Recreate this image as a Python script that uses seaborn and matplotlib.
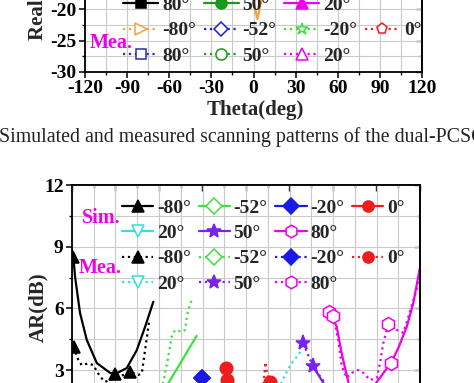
import matplotlib
matplotlib.use("Agg")
import matplotlib.pyplot as plt
import seaborn as sns
from matplotlib.lines import Line2D
from matplotlib.ticker import MultipleLocator

# ---------------- data ----------------
# upper chart (realized gain pattern) - only the deep null is in view
gain_sim_m80_theta = [-1.0, 2.8, 6.5]
gain_sim_m80_value = [-17.7, -21.6, -17.7]

# lower chart (axial ratio)
ar_sim_m80_theta = [-79.4, -78.6, -76.3, -73.2, -68.6, -62.5, -60.2, -54.8, -50.2, -46.4, -42.6]
ar_sim_m80_value = [8.51, 7.54, 5.77, 4.46, 3.34, 2.86, 2.80, 3.10, 3.97, 5.10, 6.32]
ar_mea_m80_theta = [-79.0, -77.9, -75.6, -72.5, -70.2, -67.1, -64.8, -59.5, -53.3, -49.5, -47.9, -46.4, -44.5]
ar_mea_m80_value = [4.13, 3.65, 3.24, 3.32, 3.24, 2.68, 2.43, 2.60, 2.92, 2.76, 2.84, 3.97, 5.40]

ar_sim_m52_theta = [-40.0, -22.7]
ar_sim_m52_value = [1.6, 4.66]
ar_mea_m52_theta = [-40.0, -38.0, -35.7, -34.2, -32.6, -29.6, -28.0, -27.3, -26.5, -25.0]
ar_mea_m52_value = [1.6, 2.43, 3.65, 4.62, 4.95, 4.86, 4.95, 5.52, 5.92, 6.41]

ar_sim_m20_theta = [-20.4, -19.0]
ar_sim_m20_value = [2.6, 1.6]
ar_mea_m20_theta = [-20.4, -19.0]
ar_mea_m20_value = [2.6, 1.6]

ar_sim_0_theta = [-9.2, -7.5]
ar_sim_0_value = [3.08, 1.6]
ar_mea_0_theta = [-8.6, -7.0, 7.6, 8.9, 9.8, 11.0, 12.0]
ar_mea_0_value = [2.52, 1.6, 1.6, 3.38, 2.75, 2.43, 1.6]

ar_mea_20_theta = [14.5, 16.4, 20.2, 25.6]
ar_mea_20_value = [1.6, 2.43, 3.2, 3.97]

ar_sim_50_theta = [30.7, 35.6, 37.5]
ar_sim_50_value = [3.2, 2.37, 1.6]
ar_mea_50_theta = [26.3, 30.9, 36.3, 38.0]
ar_mea_50_value = [4.3, 3.15, 2.37, 1.6]

ar_sim_80_theta = [38.3, 41.7, 44.0, 47.0, 49.0, 57.5, 59.8, 66.7, 70.0, 73.9, 76.9, 80.0]
ar_sim_80_value = [5.84, 5.11, 3.81, 2.43, 1.6, 1.6, 2.37, 3.36, 4.06, 5.10, 6.25, 8.0]
ar_mea_80_theta = [40.1, 42.4, 44.0, 46.3, 48.6, 51.6, 54.0, 57.0, 60.1, 61.6, 63.1, 65.4,
                   69.3, 72.3, 74.7, 76.9, 78.5, 80.0]
ar_mea_80_value = [5.63, 4.46, 3.19, 2.62, 2.86, 3.00, 2.86, 2.52, 2.60, 3.33, 4.30, 5.22,
                   4.95, 4.81, 5.60, 6.40, 6.90, 7.90]

gain_labels_row1 = ["-80°", "-52°", "-20°", "0°"]
gain_labels_row2 = ["80°", "50°", "20°"]
ar_labels_row1 = ["-80°", "-52°", "-20°", "0°"]
ar_labels_row2 = ["20°", "50°", "80°"]

caption = "Simulated and measured scanning patterns of the dual-PCSC"

# ---------------- style ----------------
sns.set_theme(style="ticks")
plt.rcParams['font.family'] = ['Liberation Serif', 'DejaVu Serif']
plt.rcParams['font.weight'] = 'bold'
plt.rcParams['font.size'] = 14
plt.rcParams['xtick.labelsize'] = 14
plt.rcParams['ytick.labelsize'] = 14
plt.rcParams['axes.unicode_minus'] = False

W, H = 474, 383
fig = plt.figure(figsize=(W / 100, H / 100), dpi=100)
fig.patch.set_facecolor('white')


def fx(px):
    return px / W


def fy(py):
    return 1 - py / H


BOLD = {'family': 'Liberation Serif', 'weight': 'bold', 'size': 14}
MAGF = {'family': 'Liberation Serif', 'weight': 'bold', 'size': 14.5}
MAG = '#ee00ee'
GRID = '#c9c9c9'

C_ORANGE = '#f2a33a'
C_BLUE = '#1a1ae6'
C_GREEN_L = '#3ee03e'
C_GREEN_D = '#1a9a1a'
C_RED = '#ee1c1c'
C_NAVY = '#2632b0'
C_CYAN = '#33dede'
C_PURPLE = '#7a22f0'


def style_axes(ax, xmaj, xmin, ymaj, ymin):
    ax.xaxis.set_major_locator(MultipleLocator(xmaj))
    ax.xaxis.set_minor_locator(MultipleLocator(xmin))
    ax.yaxis.set_major_locator(MultipleLocator(ymaj))
    ax.yaxis.set_minor_locator(MultipleLocator(ymin))
    ax.grid(True, which='both', color=GRID, lw=0.8)
    ax.set_axisbelow(True)
    for s in ax.spines.values():
        s.set_color('black')
        s.set_linewidth(1.3)
        s.set_visible(True)
    ax.tick_params(which='major', direction='out', length=4, width=1.1, colors='black', pad=2)
    ax.tick_params(which='minor', direction='out', length=2.5, width=1.0, colors='black')
    sx = ax.secondary_xaxis('top')
    sx.xaxis.set_major_locator(MultipleLocator(xmaj))
    sx.xaxis.set_minor_locator(MultipleLocator(xmin))
    sx.tick_params(which='both', direction='in', labeltop=False, width=1.0)
    sx.tick_params(which='major', length=4)
    sx.tick_params(which='minor', length=2.5)
    sy = ax.secondary_yaxis('right')
    sy.yaxis.set_major_locator(MultipleLocator(ymaj))
    sy.yaxis.set_minor_locator(MultipleLocator(ymin))
    sy.tick_params(which='both', direction='in', labelright=False, width=1.0)
    sy.tick_params(which='major', length=4)
    sy.tick_params(which='minor', length=2.5)


def draw(ax, x, y, color, ls, marker, mfc, idx, ms=9):
    sns.lineplot(x=x, y=y, ax=ax, color=color, linestyle=ls, lw=1.6,
                 marker=marker, markevery=idx, markersize=ms,
                 markerfacecolor=mfc, markeredgecolor=color, markeredgewidth=1.1,
                 estimator=None, sort=False, legend=False)


def handle(color, ls, marker, mfc, ms):
    return Line2D([], [], color=color, linestyle=ls, lw=1.6, marker=marker, markersize=ms,
                  markerfacecolor=mfc, markeredgecolor=color, markeredgewidth=1.1)


blank = Line2D([], [], linestyle='none')

# ---------------- upper chart ----------------
ax1 = fig.add_axes([fx(85), fy(72), 337 / W, 252 / H])
draw(ax1, gain_sim_m80_theta, gain_sim_m80_value, C_ORANGE, '-', '>', C_ORANGE, [])
style_axes(ax1, 30, 15, 5, 2.5)
ax1.set_xlim(-120, 120)
ax1.set_ylim(-30, 10)
ax1.set_xlabel('')
ax1.set_ylabel('')

g_sim1 = [handle(C_ORANGE, '-', '>', C_ORANGE, 8), handle(C_BLUE, '-', 'D', C_BLUE, 7),
          handle(C_GREEN_L, '-', '*', C_GREEN_L, 9), handle(C_RED, '-', 'p', C_RED, 8)]
g_sim2 = [handle('black', '-', 's', 'black', 7), handle(C_GREEN_D, '-', 'o', C_GREEN_D, 8),
          handle(MAG, '-', '^', MAG, 8)]
g_mea1 = [handle(C_ORANGE, ':', '>', 'white', 8), handle(C_BLUE, ':', 'D', 'white', 7),
          handle(C_GREEN_L, ':', '*', 'white', 9), handle(C_RED, ':', 'p', 'white', 8)]
g_mea2 = [handle(C_NAVY, ':', 's', 'white', 7), handle(C_GREEN_D, ':', 'o', 'white', 8),
          handle(MAG, ':', '^', 'white', 8)]

g_handles, g_labels = [], []
for c in range(4):
    g_handles += [g_sim1[c], g_sim2[c] if c < 3 else blank, g_mea1[c], g_mea2[c] if c < 3 else blank]
    g_labels += [gain_labels_row1[c], gain_labels_row2[c] if c < 3 else '',
                 gain_labels_row1[c], gain_labels_row2[c] if c < 3 else '']
ax1.legend(g_handles, g_labels, ncol=4, loc='upper left',
           bbox_to_anchor=(fx(123), fy(-29)), bbox_transform=fig.transFigure,
           frameon=False, prop=BOLD, borderpad=0, borderaxespad=0,
           handlelength=1.8, handletextpad=0.2, columnspacing=0.4, labelspacing=0.40)

fig.text(fx(111), fy(-8), "Sim.", color=MAG, fontproperties=MAGF, ha='center', va='center')
fig.text(fx(111), fy(43), "Mea.", color=MAG, fontproperties=MAGF, ha='center', va='center')

fig.text(fx(37), fy(40), "Realized Gain(dBi)", rotation=90, ha='center', va='bottom',
         fontproperties={'family': 'Liberation Serif', 'weight': 'bold', 'size': 15})
fig.text(fx(255), fy(110), "Theta(deg)", ha='center', va='center',
         fontproperties={'family': 'Liberation Serif', 'weight': 'bold', 'size': 15})

fig.text(fx(-1), fy(137), caption, ha='left', va='center', color='#222222',
         fontproperties={'family': 'Liberation Serif', 'weight': 'normal', 'size': 14.3})

# ---------------- lower chart ----------------
ax2 = fig.add_axes([fx(72), fy(431.7), 348 / W, 246.7 / H])
draw(ax2, ar_sim_m80_theta, ar_sim_m80_value, 'black', '-', '^', 'black', [0, 6])
draw(ax2, ar_mea_m80_theta, ar_mea_m80_value, 'black', ':', '^', 'black', [0, 8])
draw(ax2, ar_sim_m52_theta, ar_sim_m52_value, C_GREEN_L, '-', 'D', 'white', [0])
draw(ax2, ar_mea_m52_theta, ar_mea_m52_value, C_GREEN_L, ':', 'D', 'white', [0])
draw(ax2, ar_sim_m20_theta, ar_sim_m20_value, C_BLUE, '-', 'D', C_BLUE, [0], ms=8)
draw(ax2, ar_mea_m20_theta, ar_mea_m20_value, C_BLUE, ':', 'D', C_BLUE, [0], ms=8)
draw(ax2, ar_sim_0_theta, ar_sim_0_value, C_RED, '-', 'o', C_RED, [0])
draw(ax2, ar_mea_0_theta, ar_mea_0_value, C_RED, ':', 'o', C_RED, [0, 5])
draw(ax2, ar_mea_20_theta, ar_mea_20_value, C_CYAN, ':', 'v', 'white', [])
draw(ax2, ar_sim_50_theta, ar_sim_50_value, C_PURPLE, '-', '*', C_PURPLE, [0], ms=11)
draw(ax2, ar_mea_50_theta, ar_mea_50_value, C_PURPLE, ':', '*', C_PURPLE, [0], ms=11)
draw(ax2, ar_sim_80_theta, ar_sim_80_value, MAG, '-', 'h', 'white', [0, 7], ms=10)
draw(ax2, ar_mea_80_theta, ar_mea_80_value, MAG, ':', 'h', 'white', [0, 11], ms=10)
style_axes(ax2, 20, 10, 3, 1.5)
ax2.set_xlim(-80, 80)
ax2.set_ylim(0, 12)
ax2.set_xlabel('')
ax2.set_ylabel('')

a_sim1 = [handle('black', '-', '^', 'black', 9), handle(C_GREEN_L, '-', 'D', 'white', 8),
          handle(C_BLUE, '-', 'D', C_BLUE, 8), handle(C_RED, '-', 'o', C_RED, 8)]
a_sim2 = [handle(C_CYAN, '-', 'v', 'white', 9), handle(C_PURPLE, '-', '*', C_PURPLE, 10),
          handle(MAG, '-', 'h', 'white', 9)]
a_mea1 = [handle('black', ':', '^', 'black', 9), handle(C_GREEN_L, ':', 'D', 'white', 8),
          handle(C_BLUE, ':', 'D', C_BLUE, 8), handle(C_RED, ':', 'o', C_RED, 8)]
a_mea2 = [handle(C_CYAN, ':', 'v', 'white', 9), handle(C_PURPLE, ':', '*', C_PURPLE, 10),
          handle(MAG, ':', 'h', 'white', 9)]
a_handles, a_labels = [], []
for c in range(4):
    a_handles += [a_sim1[c], a_sim2[c] if c < 3 else blank, a_mea1[c], a_mea2[c] if c < 3 else blank]
    a_labels += [ar_labels_row1[c], ar_labels_row2[c] if c < 3 else '',
                 ar_labels_row1[c], ar_labels_row2[c] if c < 3 else '']
ax2.legend(a_handles, a_labels, ncol=4, loc='upper left',
           bbox_to_anchor=(fx(122), fy(199)), bbox_transform=fig.transFigure,
           frameon=False, prop=BOLD, borderpad=0, borderaxespad=0,
           handlelength=1.6, handletextpad=0.2, columnspacing=0.4, labelspacing=0.40)

fig.text(fx(101), fy(218), "Sim.", color=MAG, fontproperties=MAGF, ha='center', va='center')
fig.text(fx(100), fy(268), "Mea.", color=MAG, fontproperties=MAGF, ha='center', va='center')
fig.text(fx(38), fy(307), "AR(dB)", rotation=90, ha='center', va='center',
         fontproperties={'family': 'Liberation Serif', 'weight': 'bold', 'size': 15})

fig.savefig("out.png", dpi=100, facecolor='white')
